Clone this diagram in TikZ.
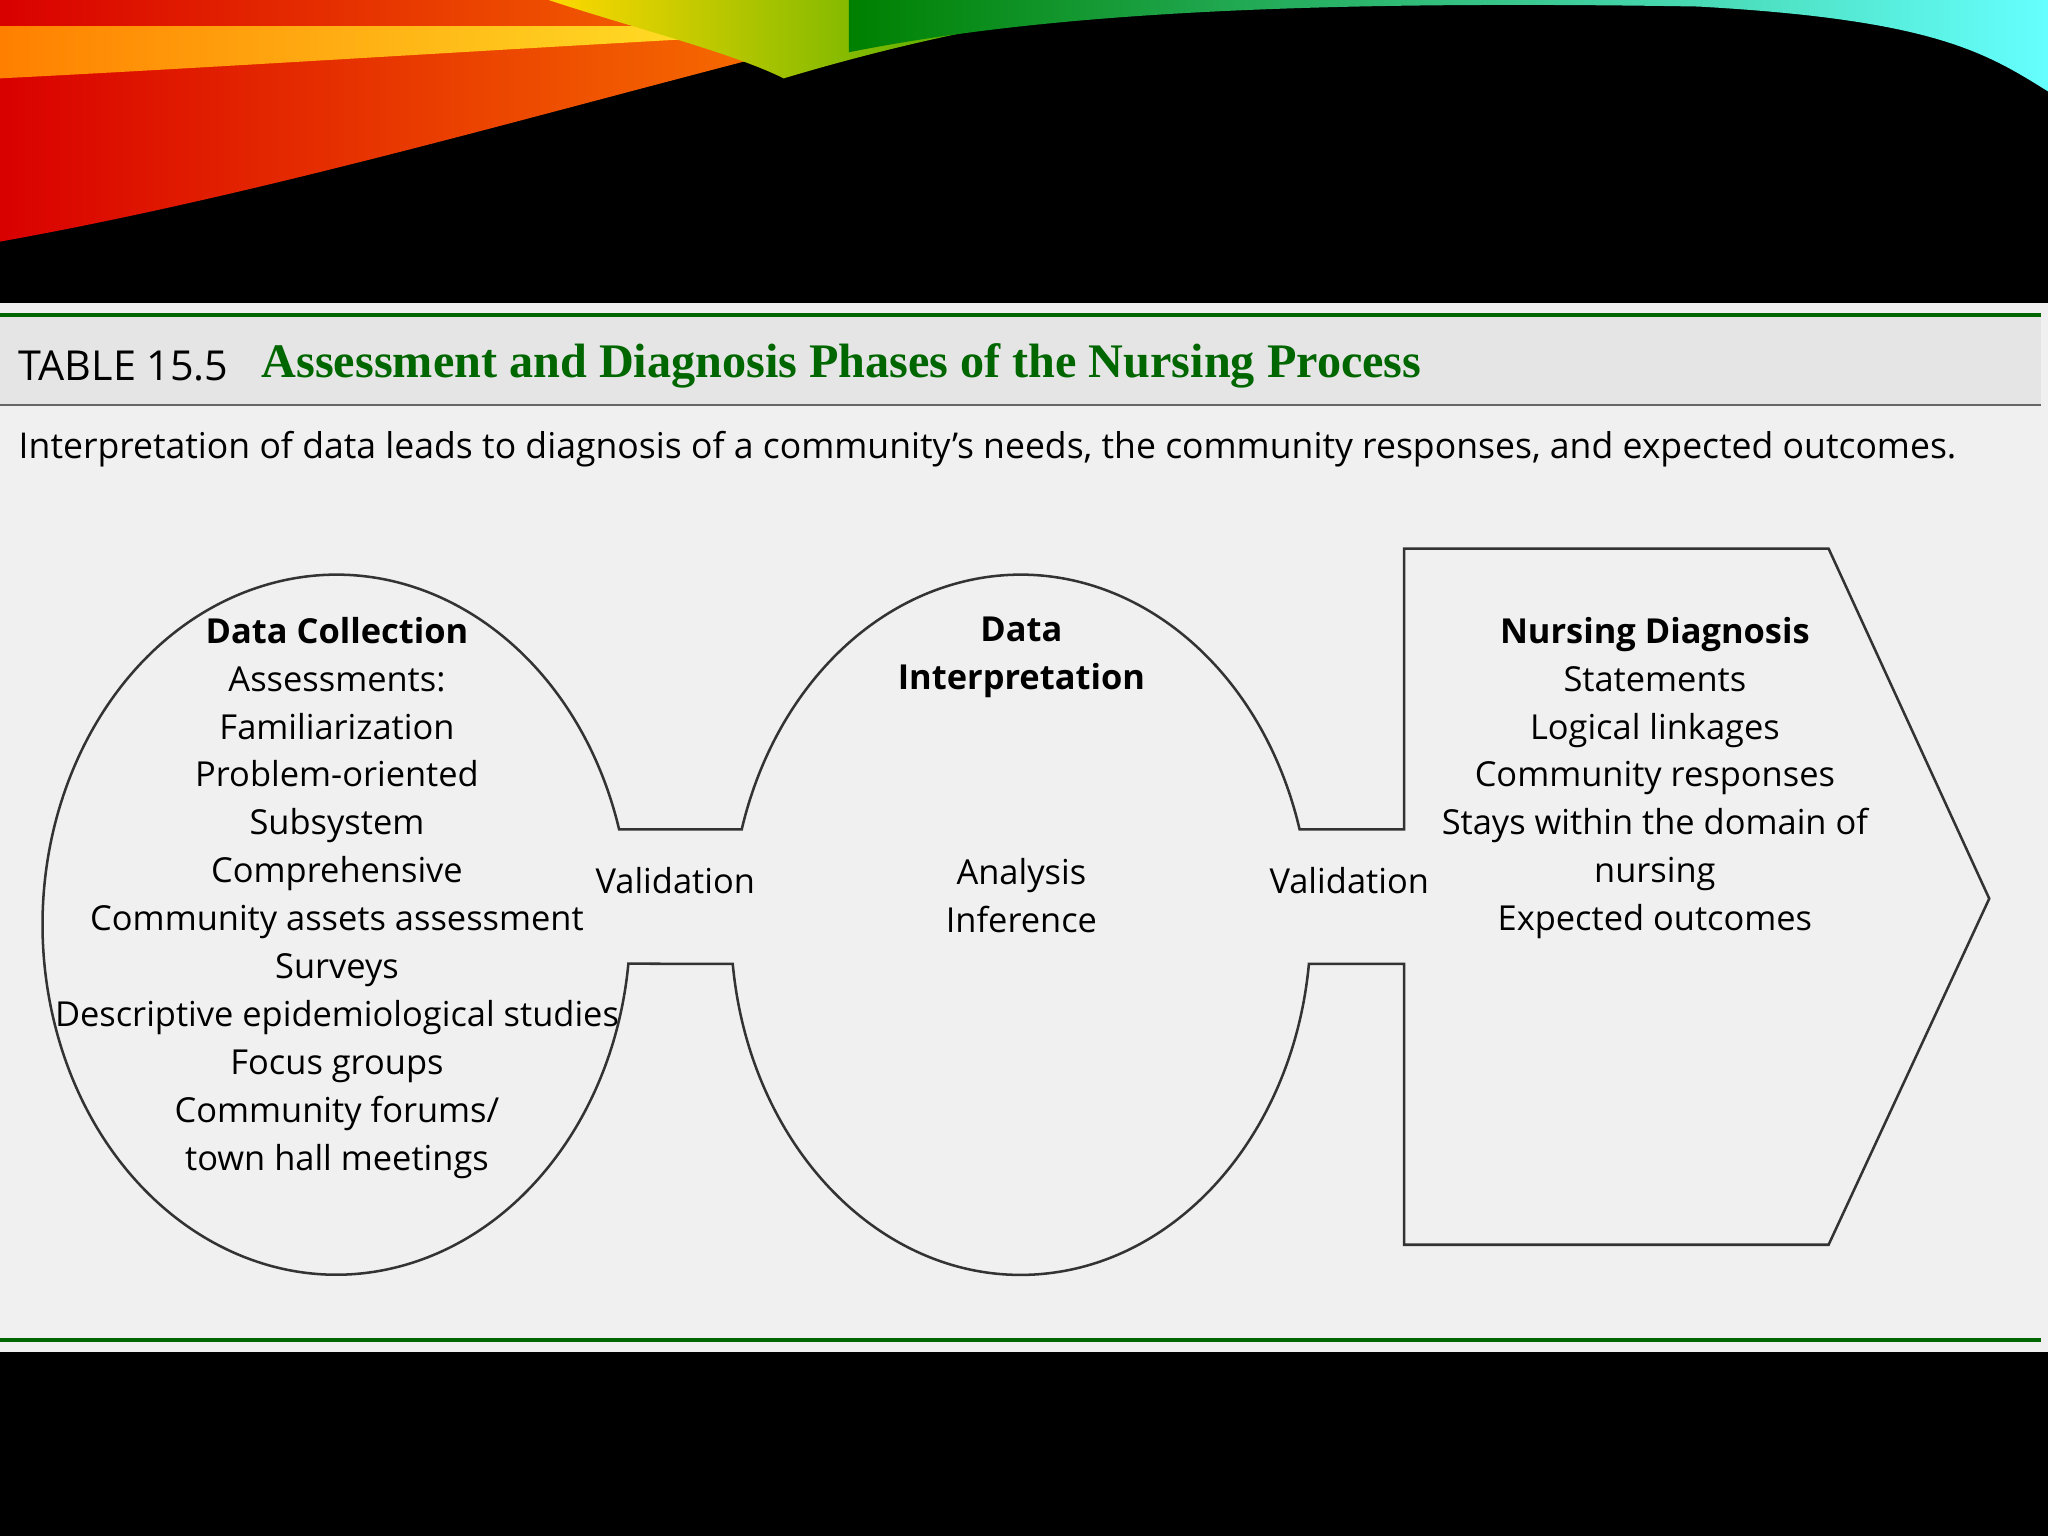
\documentclass[tikz,border=0pt]{standalone}
\usepackage{fontspec}
\setmainfont{Open Sans}
\newfontfamily\serifb{Liberation Serif}
\begin{document}
\begin{tikzpicture}[x=0.02cm,y=0.02cm,
  txt/.style={align=center,font=\fontsize{15}{20.9}\selectfont,inner sep=0pt,anchor=north},
  outl/.style={draw=black!80,line width=1.1pt}]
\useasboundingbox (0,0) rectangle (1568,-1176);
\fill[black] (0,0) rectangle (1568,-1176);
% top decoration
\shade[left color=red!85!black,right color=orange!90!yellow] (0,0) -- (760,0) .. controls (500,-60) and (250,-140) .. (0,-185) -- cycle;
\shade[left color=orange,right color=yellow!80!white] (0,-20) -- (720,-20) .. controls (500,-30) and (200,-50) .. (0,-60) -- cycle;
\shade[left color=yellow!70!orange,right color=green!60!black] (420,0) -- (900,0) .. controls (800,-10) and (700,-30) .. (600,-60) .. controls (560,-40) and (480,-20) .. (420,0) -- cycle;
\shade[left color=green!50!black,right color=cyan!60!white] (650,0) -- (1568,0) -- (1568,-70) .. controls (1520,-40) and (1480,-15) .. (1300,-5) .. controls (1000,0) and (800,-10) .. (650,-40) -- cycle;
% panel
\fill[black!6] (0,-232) rectangle (1568,-1035);
\fill[black!10] (0,-242) rectangle (1563,-310);
\draw[green!40!black,line width=1.6pt] (0,-241) -- (1563,-241);
\draw[black!60,line width=0.8pt] (0,-310) -- (1563,-310);
\draw[green!40!black,line width=1.6pt] (0,-1026) -- (1563,-1026);
\node[anchor=west,inner sep=0pt,font=\fontsize{18}{20}\selectfont] (tab) at (14,-280) {TABLE 15.5};
\node[anchor=west,inner sep=0pt,font=\serifb\bfseries\fontsize{21}{24}\selectfont,text=green!40!black] (title) at (200,-280) {Assessment and Diagnosis Phases of the Nursing Process};
\node[anchor=west,inner sep=0pt,font=\fontsize{15.5}{20}\selectfont] (sub) at (14,-344) {Interpretation of data leads to diagnosis of a community’s needs, the community responses, and expected outcomes.};
% outline shape
\draw[outl] (474,-635) arc[start angle=15.8,end angle=353.6,x radius=4.5cm,y radius=5.36cm]
  -- (561,-738) arc[start angle=186.4,end angle=353.6,x radius=4.44cm,y radius=5.36cm]
  -- (1075,-738) -- (1075,-953) -- (1400,-953) -- (1523,-688) -- (1400,-420) -- (1075,-420) -- (1075,-635)
  -- (995,-635) arc[start angle=15.8,end angle=164.2,x radius=4.44cm,y radius=5.36cm] -- cycle;
% texts
\node[txt] (dc) at (258,-472) {\textbf{Data Collection}\\Assessments:\\Familiarization\\Problem-oriented\\Subsystem\\Comprehensive\\Community assets assessment\\Surveys\\Descriptive epidemiological studies\\Focus groups\\Community forums/\\town hall meetings};
\node[txt] (di) at (782,-472) {\textbf{Data}\\\textbf{Interpretation}};
\node[txt] (an) at (782,-657) {Analysis\\Inference};
\node[txt] (v1) at (517,-664) {Validation};
\node[txt] (v2) at (1033,-664) {Validation};
\node[txt] (nd) at (1267,-472) {\textbf{Nursing Diagnosis}\\Statements\\Logical linkages\\Community responses\\Stays within the domain of\\nursing\\Expected outcomes};
\end{tikzpicture}
\end{document}
